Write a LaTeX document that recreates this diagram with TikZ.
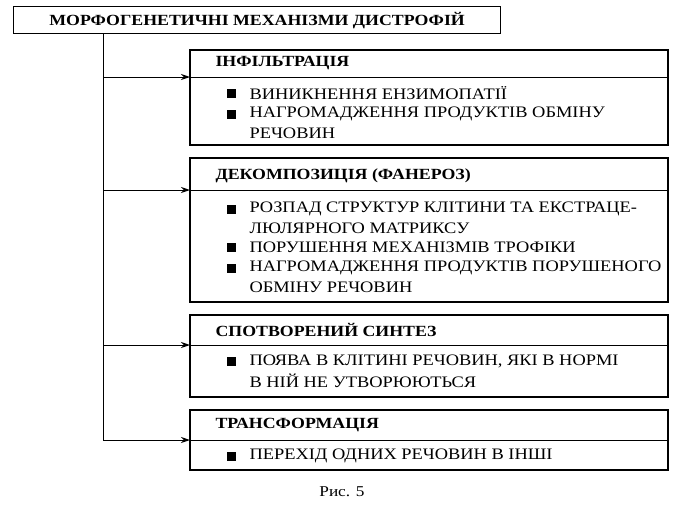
\documentclass[tikz,border=0pt]{standalone}
\usepackage{fontspec}
\setmainfont{Liberation Serif}[FakeStretch=1.15]
\usetikzlibrary{arrows.meta}
\begin{document}
\begin{tikzpicture}[x=1pt,y=-1pt,
  box/.style={draw,line width=1.2pt},
  hd/.style={anchor=west,font=\fontsize{15.5}{17}\selectfont\bfseries},
  tx/.style={anchor=west,font=\fontsize{16}{18}\selectfont},
  bul/.style={fill=black,minimum size=9pt,inner sep=0pt},
  arr/.style={-{Stealth[length=9pt,width=6pt]},line width=1pt}]
\useasboundingbox (0,0) rectangle (683,512);
\node[box,minimum width=487pt,minimum height=27pt,anchor=north west,font=\fontsize{15.5}{17}\selectfont\bfseries] (title) at (13,6) {МОРФОГЕНЕТИЧНІ МЕХАНІЗМИ ДИСТРОФІЙ};
\coordinate (top) at (103,33);
\coordinate (bot) at (103,440);
\draw[line width=1pt] (top) -- (bot);
\draw[box] (190,50) rectangle (668,145); \draw[line width=1pt] (190,77)--(668,77);
\draw[box] (190,158) rectangle (668,302); \draw[line width=1pt] (190,190)--(668,190);
\draw[box] (190,315) rectangle (668,397); \draw[line width=1pt] (190,345)--(668,345);
\draw[box] (190,410) rectangle (668,470); \draw[line width=1pt] (190,440)--(668,440);
\coordinate (a1) at (103,77); \coordinate (b1) at (190,77);
\coordinate (a2) at (103,190); \coordinate (b2) at (190,190);
\coordinate (a3) at (103,345); \coordinate (b3) at (190,345);
\coordinate (b4) at (190,440);
\draw[arr] (a1)--(b1); \draw[arr] (a2)--(b2); \draw[arr] (a3)--(b3); \draw[arr] (bot)--(b4);
\node[hd] (h1) at (212,63) {ІНФІЛЬТРАЦІЯ};
\node[bul] (q1) at (231,93) {}; \node[tx] (t1) at (246,93) {ВИНИКНЕННЯ ЕНЗИМОПАТІЇ};
\node[bul] (q2) at (231,114) {}; \node[tx] (t2) at (246,114) {НАГРОМАДЖЕННЯ ПРОДУКТІВ ОБМІНУ};
\node[tx] (t3) at (246,133) {РЕЧОВИН};
\node[hd] (h2) at (212,176) {ДЕКОМПОЗИЦІЯ (ФАНЕРОЗ)};
\node[bul] (q3) at (231,209) {}; \node[tx] (t4) at (246,209) {РОЗПАД СТРУКТУР КЛІТИНИ ТА ЕКСТРАЦЕ-};
\node[tx] (t5) at (246,228) {ЛЮЛЯРНОГО МАТРИКСУ};
\node[bul] (q4) at (231,247) {}; \node[tx] (t6) at (246,247) {ПОРУШЕННЯ МЕХАНІЗМІВ ТРОФІКИ};
\node[bul] (q5) at (231,268) {}; \node[tx] (t7) at (246,268) {НАГРОМАДЖЕННЯ ПРОДУКТІВ ПОРУШЕНОГО};
\node[tx] (t8) at (246,287) {ОБМІНУ РЕЧОВИН};
\node[hd] (h3) at (212,330) {СПОТВОРЕНИЙ СИНТЕЗ};
\node[bul] (q6) at (231,361) {}; \node[tx] (t9) at (246,361) {ПОЯВА В КЛІТИНІ РЕЧОВИН, ЯКІ В НОРМІ};
\node[tx] (t10) at (246,381) {В НІЙ НЕ УТВОРЮЮТЬСЯ};
\node[hd] (h4) at (212,425) {ТРАНСФОРМАЦІЯ};
\node[bul] (q7) at (231,456) {}; \node[tx] (t11) at (246,456) {ПЕРЕХІД ОДНИХ РЕЧОВИН В ІНШІ};
\node[font=\fontsize{15}{17}\selectfont] (cap) at (342,492) {Рис. 5};
\end{tikzpicture}
\end{document}
